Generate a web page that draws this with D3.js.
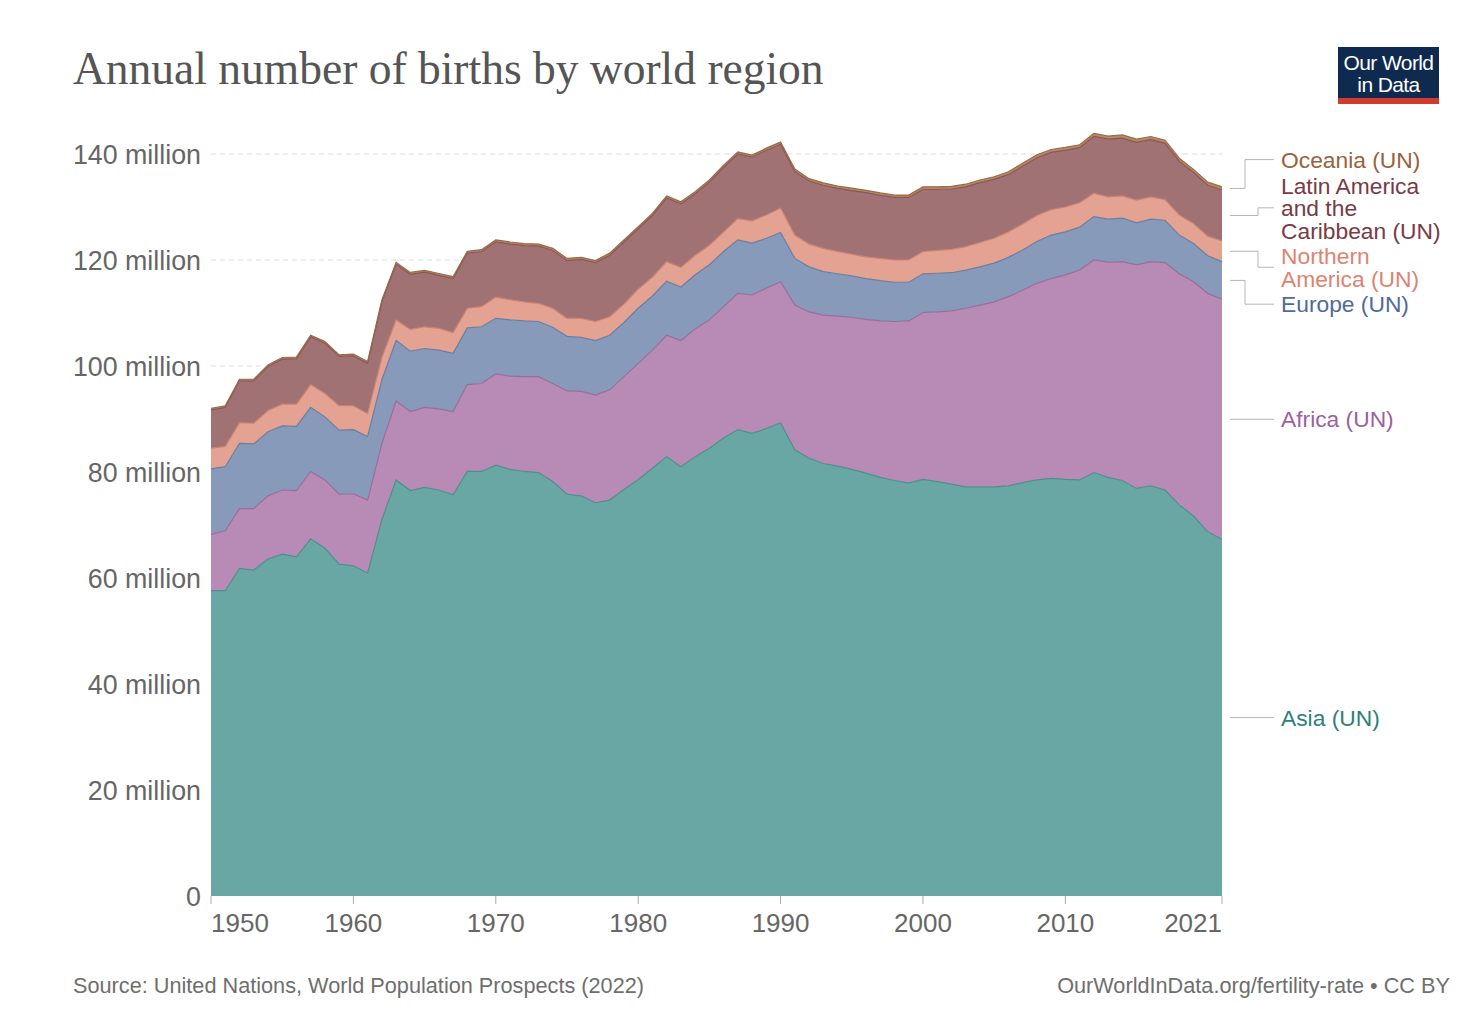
<!DOCTYPE html>
<html>
<head>
<meta charset="utf-8">
<script src="https://cdn.jsdelivr.net/npm/d3@7"></script>
<style>
  html, body { margin: 0; padding: 0; background: #fff; }
  svg { display: block; }
</style>
</head>
<body>
<svg id="chart" width="1484" height="1018"></svg>
<script>
// ---------------- DATA (million births per year) ----------------
const years = d3.range(1950, 2022);

const asia = [57.6,57.6,61.8,61.5,63.6,64.5,64.0,67.4,65.6,62.6,
  62.3,60.9,71.0,78.5,76.5,77.1,76.6,75.7,80.1,80.1,
  81.3,80.5,80.1,79.9,78.2,75.8,75.5,74.2,74.7,76.7,
  78.6,80.7,82.9,81.0,82.9,84.5,86.4,88.0,87.3,88.2,
  89.3,84.2,82.6,81.6,81.1,80.5,79.8,79.0,78.4,77.9,
  78.6,78.2,77.7,77.2,77.2,77.2,77.4,78.0,78.5,78.8,
  78.6,78.5,79.9,79.0,78.4,76.9,77.4,76.6,73.8,71.7,
  68.7,67.3];

const africa = [10.6,11.3,11.3,11.6,11.9,12.1,12.5,12.7,12.9,13.2,
  13.6,13.8,14.4,14.9,14.9,15.1,15.3,15.7,16.4,16.6,
  17.2,17.6,17.9,18.1,18.5,19.5,19.7,20.3,20.8,21.3,
  21.9,22.3,22.9,23.8,24.1,24.2,24.8,25.7,26.1,26.5,
  26.6,27.3,27.6,28.0,28.3,28.7,29.0,29.5,30.0,30.6,
  31.5,32.0,32.7,33.7,34.3,34.9,35.7,36.3,37.1,37.7,
  38.6,39.6,40.1,40.6,41.3,42.2,42.3,42.9,43.6,44.2,
  45.0,45.3];

const europe = [12.4,12.1,12.3,12.2,12.1,12.1,12.1,12.1,11.9,12.1,
  12.1,12.0,12.0,11.4,11.4,11.1,11.1,11.0,10.7,10.7,
  10.5,10.6,10.5,10.4,10.6,10.3,10.2,10.3,10.3,10.2,
  10.4,10.2,10.2,10.1,10.2,10.4,10.4,10.1,9.8,9.4,
  9.3,8.8,8.5,8.2,8.0,7.8,7.7,7.6,7.4,7.3,
  7.3,7.3,7.2,7.2,7.2,7.3,7.4,7.6,7.9,8.2,
  8.1,8.1,8.2,8.1,8.2,7.9,8.0,8.0,7.3,7.2,
  7.1,7.1];

const northernAmerica = [3.9,3.8,3.9,3.9,4.0,4.1,4.2,4.3,4.4,4.6,
  4.5,4.3,4.2,3.9,4.1,4.1,4.1,3.9,3.7,3.8,
  4.0,3.8,3.6,3.4,3.6,3.4,3.6,3.6,3.5,3.5,
  3.6,3.6,3.7,3.7,3.7,3.7,3.7,4.0,4.2,4.4,
  4.6,4.4,4.3,4.4,4.2,4.1,4.1,4.2,4.2,4.2,
  4.2,4.3,4.4,4.4,4.6,4.7,4.8,4.9,4.9,4.8,
  4.7,4.6,4.4,4.2,4.2,4.3,4.2,3.9,3.8,3.8,
  3.7,3.9];

const latinAmerica = [7.2,7.4,7.9,8.0,8.3,8.5,8.6,9.0,9.5,9.3,
  9.4,9.5,10.5,10.5,10.4,10.3,10.0,10.2,10.4,10.4,
  10.4,10.5,10.6,10.8,10.9,10.9,11.1,11.1,11.6,11.7,
  11.4,11.6,12.0,12.0,11.6,11.9,12.2,12.2,12.0,12.2,
  12.0,12.0,11.9,11.9,11.9,12.0,12.1,11.9,11.8,11.8,
  11.7,11.5,11.4,11.3,11.3,11.1,10.8,10.9,10.9,10.8,
  10.7,10.4,10.7,10.9,10.9,10.9,10.8,10.6,10.1,9.6,
  9.6,9.6];

const oceania = [0.3,0.3,0.3,0.3,0.3,0.3,0.3,0.3,0.3,0.3,
  0.35,0.35,0.35,0.35,0.35,0.35,0.35,0.35,0.35,0.35,
  0.4,0.4,0.4,0.4,0.4,0.4,0.4,0.4,0.4,0.4,
  0.4,0.4,0.4,0.4,0.4,0.4,0.4,0.4,0.4,0.4,
  0.45,0.45,0.45,0.45,0.45,0.45,0.45,0.45,0.45,0.45,
  0.5,0.5,0.5,0.5,0.5,0.5,0.55,0.55,0.55,0.55,
  0.55,0.55,0.6,0.6,0.6,0.6,0.6,0.6,0.6,0.6,
  0.6,0.6];

const seriesKeys = ["Asia (UN)", "Africa (UN)", "Europe (UN)", "Northern America (UN)",
  "Latin America and the Caribbean (UN)", "Oceania (UN)"];
const seriesValues = [asia, africa, europe, northernAmerica, latinAmerica, oceania];
const fillColors = ["#63a4a1", "#b587b4", "#8397b7", "#e39f8e", "#9d6d70", "#b3865f"];
const strokeColors = ["#4f8e8b", "#9a6c9a", "#6a7ea2", "#c98370", "#8a5659", "#9a6a42"];
const textColors = ["#2e7f7b", "#9d5fa0", "#4f6a98", "#dc8471", "#7a3a44", "#9a6239"];
const legendLines = [["Asia (UN)"], ["Africa (UN)"], ["Europe (UN)"], ["Northern", "America (UN)"],
  ["Latin America", "and the", "Caribbean (UN)"], ["Oceania (UN)"]];

const yTicks = [0, 20, 40, 60, 80, 100, 120, 140];
const yTickLabels = ["0", "20 million", "40 million", "60 million", "80 million", "100 million", "120 million", "140 million"];
const xTicks = [1950, 1960, 1970, 1980, 1990, 2000, 2010, 2021];

const titleText = "Annual number of births by world region";
const sourceText = "Source: United Nations, World Population Prospects (2022)";
const licenseText = "OurWorldInData.org/fertility-rate • CC BY";

// ---------------- CHART ----------------
const svg = d3.select("#chart");
const sans = "'Liberation Sans', Arial, Helvetica, sans-serif";

const x = d3.scaleLinear().domain([1950, 2021]).range([211, 1222]);
const y = d3.scaleLinear().domain([0, 140]).range([896, 154]);

const table = years.map((yr, i) => {
  const row = { year: yr };
  seriesKeys.forEach((k, j) => row[k] = seriesValues[j][i]);
  return row;
});
const stacked = d3.stack().keys(seriesKeys)(table);

// Title
svg.append("text")
  .attr("x", 73).attr("y", 84)
  .attr("font-family", "'Liberation Serif', 'Times New Roman', serif")
  .attr("font-size", 45.5)
  .attr("fill", "#555")
  .text(titleText);

// Logo
const logo = svg.append("g");
logo.append("rect").attr("x", 1338).attr("y", 47).attr("width", 101).attr("height", 57).attr("fill", "#0f2a4f");
logo.append("rect").attr("x", 1338).attr("y", 98).attr("width", 101).attr("height", 6).attr("fill", "#cf3b2c");
logo.append("text").attr("x", 1388.5).attr("y", 70).attr("text-anchor", "middle")
  .attr("font-family", sans).attr("font-size", 21).attr("fill", "#fff").attr("letter-spacing", -0.6).text("Our World");
logo.append("text").attr("x", 1388.5).attr("y", 92).attr("text-anchor", "middle")
  .attr("font-family", sans).attr("font-size", 21).attr("fill", "#fff").attr("letter-spacing", -0.6).text("in Data");

// Gridlines
svg.append("g").selectAll("line")
  .data(yTicks.filter(d => d > 0))
  .join("line")
  .attr("x1", 211).attr("x2", 1222)
  .attr("y1", d => y(d)).attr("y2", d => y(d))
  .attr("stroke", "#dddddd").attr("stroke-width", 1)
  .attr("stroke-dasharray", "5,4");

// Y labels
svg.append("g").selectAll("text")
  .data(yTicks)
  .join("text")
  .attr("x", 201).attr("y", d => y(d))
  .attr("dy", "0.36em")
  .attr("text-anchor", "end")
  .attr("font-family", sans).attr("font-size", 26.8)
  .attr("fill", "#666")
  .text((d, i) => yTickLabels[i]);

// Areas
const area = d3.area()
  .x(d => x(d.data.year))
  .y0(d => y(d[0]))
  .y1(d => y(d[1]))
  .curve(d3.curveLinear);
const topLine = d3.line()
  .x(d => x(d.data.year))
  .y(d => y(d[1]))
  .curve(d3.curveLinear);

const areas = svg.append("g");
stacked.forEach((s, i) => {
  areas.append("path").attr("d", area(s))
    .attr("fill", fillColors[i]).attr("fill-opacity", 0.97);
});
stacked.forEach((s, i) => {
  areas.append("path").attr("d", topLine(s))
    .attr("fill", "none").attr("stroke", strokeColors[i])
    .attr("stroke-width", 1.2);
});

// X axis ticks and labels
svg.append("g").selectAll("line")
  .data(xTicks)
  .join("line")
  .attr("x1", d => x(d)).attr("x2", d => x(d))
  .attr("y1", 896).attr("y2", 904)
  .attr("stroke", "#aaa").attr("stroke-width", 1);

svg.append("g").selectAll("text")
  .data(xTicks)
  .join("text")
  .attr("x", d => x(d))
  .attr("y", 932)
  .attr("text-anchor", (d, i) => i === 0 ? "start" : (i === xTicks.length - 1 ? "end" : "middle"))
  .attr("font-family", sans).attr("font-size", 26)
  .attr("fill", "#666")
  .text(d => d);

// Legend (labels on the right with connectors)
const lineH = 22.5, gap = 3.2, clusterShift = -2;
const last = stacked.map(s => s[s.length - 1]);
let labels = seriesKeys.map((k, i) => ({
  i, ideal: y((last[i][0] + last[i][1]) / 2), h: legendLines[i].length * lineH
}));
labels.sort((a, b) => a.ideal - b.ideal);
let clusters = labels.map(l => ({ items: [l] }));
function layoutCluster(c) {
  const H = d3.sum(c.items, d => d.h) + gap * (c.items.length - 1);
  const mid = d3.mean(c.items, d => d.ideal) + (c.items.length > 1 ? clusterShift : 0);
  let t = mid - H / 2;
  c.top = t; c.bottom = t + H;
  c.items.forEach(d => { d.top = t; d.center = t + d.h / 2; t += d.h + gap; });
}
clusters.forEach(layoutCluster);
let merged = true;
while (merged) {
  merged = false;
  for (let k = 0; k < clusters.length - 1; k++) {
    if (clusters[k].bottom + gap > clusters[k + 1].top) {
      clusters[k].items = clusters[k].items.concat(clusters[k + 1].items);
      clusters.splice(k + 1, 1);
      layoutCluster(clusters[k]);
      merged = true;
      break;
    }
  }
}

const legend = svg.append("g");
labels.forEach(l => {
  const shift = Math.abs(l.center - l.ideal);
  const elbow = shift > 20 ? 1245 : 1258;
  let pts;
  if (shift < 1) {
    pts = [[1230, l.ideal], [1274, l.ideal]];
  } else {
    pts = [[1230, l.ideal], [elbow, l.ideal], [elbow, l.center], [1274, l.center]];
  }
  legend.append("path")
    .attr("d", d3.line()(pts))
    .attr("fill", "none").attr("stroke", "#b5b5b5").attr("stroke-width", 1);
  const t = legend.append("text")
    .attr("font-family", sans).attr("font-size", 22.8)
    .attr("fill", textColors[l.i]);
  legendLines[l.i].forEach((ln, j) => {
    t.append("tspan").attr("x", 1281)
      .attr("y", l.top + lineH * j + lineH / 2)
      .attr("dy", "0.36em")
      .text(ln);
  });
});

// Footer
svg.append("text")
  .attr("x", 73).attr("y", 993)
  .attr("font-family", sans).attr("font-size", 21.7)
  .attr("fill", "#6e6e6e")
  .text(sourceText);
svg.append("text")
  .attr("x", 1450).attr("y", 993)
  .attr("text-anchor", "end")
  .attr("font-family", sans).attr("font-size", 21.7)
  .attr("fill", "#6e6e6e")
  .text(licenseText);
</script>
</body>
</html>
